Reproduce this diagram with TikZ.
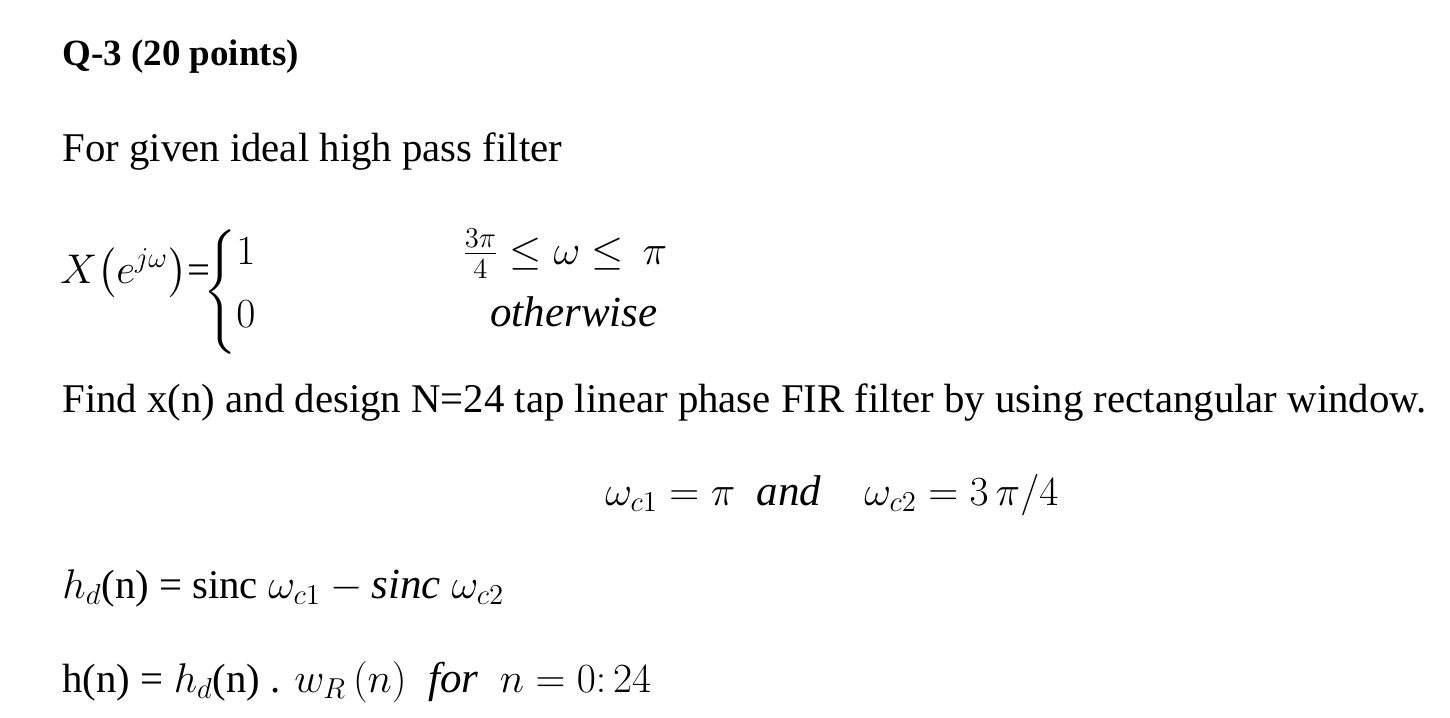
\documentclass[tikz,border=0pt]{standalone}
\usepackage{amsmath}
\usepackage{fontspec}
\setmainfont{Liberation Serif}
\newcommand{\MM}[1]{{\fontsize{21.5}{24}\selectfont$#1$}}
\begin{document}
\begin{tikzpicture}[x=0.5pt,y=-0.5pt,
  txt/.style={anchor=base west,inner sep=0pt,font=\fontsize{20.4}{24}\selectfont}]
\useasboundingbox (0,0) rectangle (1450,717);
\node[txt,font=\fontsize{18.5}{22}\selectfont\bfseries] (q) at (62,66) {Q-3 (20 points)};
\node[txt] (g) at (62,162) {For given ideal high pass filter};
\node[txt] (x) at (60,283) {\MM{X\bigl(e^{j\omega}\bigr)}=};
\node[inner sep=0pt,anchor=west] (br) at (203,292) {\MM{\left\{\vphantom{\rule{1pt}{34pt}}\right.}};
\node[txt] (one) at (236,264) {\MM{1}};
\node[txt] (zero) at (236,327) {\MM{0}};
\node[txt] (c1) at (462,264) {\MM{\tfrac{3\pi}{4}\leq\omega\leq\,\pi}};
\node[txt] (c2) at (490,326) {\MM{\mathit{otherwise}}};
\node[txt] (f) at (62,412) {Find x(n) and design N=24 tap linear phase FIR filter by using rectangular window.};
\node[txt] (w) at (605,505) {\MM{\omega_{c1}=\pi\ \ \mathit{and}\quad\omega_{c2}=3\,\pi/4}};
\node[txt] (hd) at (62,598) {\MM{h_d}(n) = sinc \MM{\omega_{c1}-\mathit{sinc}\ \omega_{c2}}};
\node[txt] (h) at (62,692) {h(n) = \MM{h_d}(n) . \MM{w_R\,(n)\ \ \mathit{for}\ \ n=0{:}\,24}};
\end{tikzpicture}
\end{document}
